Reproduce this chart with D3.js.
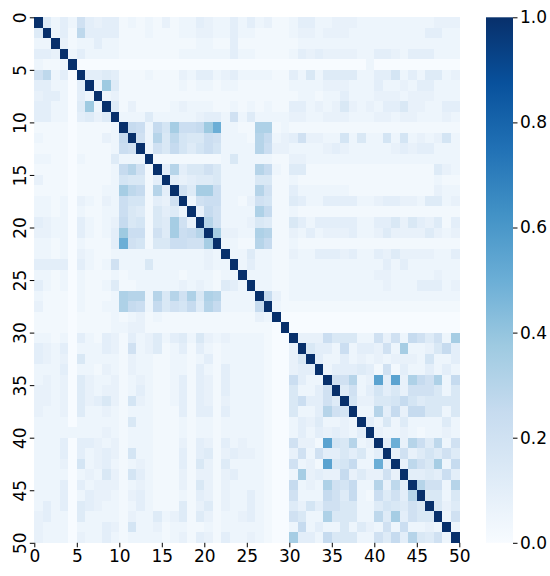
<!DOCTYPE html>
<html><head><meta charset="utf-8">
<script src="https://cdn.jsdelivr.net/npm/d3@7/dist/d3.min.js"></script>
<style>
html,body{margin:0;padding:0;background:#fff;}
svg{display:block;}
text{font-family:"DejaVu Sans",sans-serif;}
</style>
</head><body>
<svg id="chart" width="550" height="576"></svg>
<script>
(function(){
// ---- data ----
// number of variables (rows/cols) of the correlation matrix
const variableCount = 50;
// tick labels for both matrix axes
const axisTicks = [0, 5, 10, 15, 20, 25, 30, 35, 40, 45, 50];
// colorbar ticks
const colorbarTicks = [0.0, 0.2, 0.4, 0.6, 0.8, 1.0];
// diagonal value
const diagonalValue = 1.0;
// value step of one character in the encoded rows below (base-36 digit * step)
const valueStep = 0.025;
// upper triangle of the symmetric matrix:
// row i lists columns i+1 .. 49
const upperTriangle = [
  "524284344" + "1212131" + "2243224242311" + "24422333222222222333",
  "241b4444" + "1112111" + "2233224221111" + "23323332222222224422",
  "3122422" + "1111111" + "1122114111111" + "12222222222222222222",
  "242222" + "1111111" + "2222224221111" + "24343333224432444222",
  "00000" + "0000000" + "0000000000000" + "00000000020000000000",
  "4454" + "1112111" + "3244234222211" + "42625555224472425523",
  "2f5" + "1111111" + "2122122111111" + "22223332224223244222",
  "23" + "1111111" + "1111111111111" + "12212242223332333222",
  "5" + "1311112" + "3222112121211" + "44232363232446332244",
  "2225222" + "2234428252222" + "33223332223323322232",
  "a92a7e" + "99afk" + "2211" + "dd" + "12" + "11111111111111111111",
  "82c6b" + "76698" + "2221" + "ca" + "23" + "48332272622727232372",
  "286a" + "75797" + "2222" + "c9" + "33" + "22223432222234344222",
  "111" + "11111" + "2622" + "22" + "11" + "33222222222222222222",
  "4c" + "46686" + "2222" + "ca" + "21" + "55" + "111111111111111" + "532",
  "4" + "34556" + "2222" + "66" + "11" + "2" + "1111111111111111" + "211",
  "85ee9" + "2222" + "c8" + "11" + "4222222" + "1111111111" + "322",
  "2899" + "2213" + "87" + "11" + "54224444223443325523",
  "3a8" + "2222" + "da" + "11" + "2" + "1111111111111111111",
  "c8" + "2223" + "65" + "11" + "64244444224463643514",
  "e" + "3322" + "dc" + "11" + "32423334223533335323",
  "2211" + "ca" + "11" + "2" + "1111111111111111111",
  "2252211" + "32244434224353333224",
  "242211" + "22222222222424222222",
  "22211" + "22222222223322222322",
  "2211" + "22222222222322244423",
  "a31" + "22222222222222222222",
  "21" + "11111111111111111111",
  "0" + "00000000000000000000",
  "00000000000000000000",
  "333" + "9666228382a8582e",
  "64" + "429244382e2236a4",
  "4" + "2242323233327224",
  "2444541814224242",
  "88c23m4m3da8d2a",
  "58247463888626",
  "733667a756666",
  "22c4a3aa6626",
  "42625222252",
  "3223212232",
  "4k3c95b28",
  "38357585",
  "3b86e2a",
  "445494",
  "c882c",
  "6626",
  "635",
  "28",
  "2",
  ""
];
// matplotlib "Blues" colormap anchors
const bluesColors = ["#f7fbff","#deebf7","#c6dbef","#9ecae1","#6baed6","#4292c6","#2171b5","#08519c","#08306b"];

// ---- build matrix ----
function upperValue(i, j) {
  return parseInt(upperTriangle[i].charAt(j - i - 1), 36) * valueStep;
}
const cells = [];
for (let i = 0; i < variableCount; i++) {
  for (let j = 0; j < variableCount; j++) {
    let v;
    if (i === j) v = diagonalValue;
    else if (j > i) v = upperValue(i, j);
    else v = upperValue(j, i);
    cells.push({row: i, col: j, value: v});
  }
}

// ---- drawing ----
const svg = d3.select("#chart");
const plotLeft = 34.3, plotRight = 459.3, plotTop = 17.3, plotBottom = 542.8;
const x = d3.scaleLinear().domain([0, variableCount]).range([plotLeft, plotRight]);
const y = d3.scaleLinear().domain([0, variableCount]).range([plotTop, plotBottom]);
const color = d3.scaleLinear()
  .domain(bluesColors.map((c, k) => k / (bluesColors.length - 1)))
  .range(bluesColors)
  .interpolate(d3.interpolateRgb)
  .clamp(true);

svg.append("g")
  .attr("shape-rendering", "crispEdges")
  .selectAll("rect")
  .data(cells)
  .join("rect")
  .attr("x", d => x(d.col))
  .attr("y", d => y(d.row))
  .attr("width", d => x(d.col + 1) - x(d.col) + 0.3)
  .attr("height", d => y(d.row + 1) - y(d.row) + 0.3)
  .attr("fill", d => color(d.value));

const fontSize = 17;

// bottom axis
const gx = svg.append("g")
  .attr("transform", `translate(0,${plotBottom})`)
  .call(d3.axisBottom(x).tickValues(axisTicks).tickSize(4.5).tickPadding(2.8).tickFormat(d3.format("d")));
gx.select(".domain").remove();
gx.selectAll("text").attr("font-size", fontSize).attr("fill", "#000").attr("font-family", "DejaVu Sans");
gx.selectAll("line").attr("stroke", "#000").attr("stroke-width", 1);

// left axis (rotated labels)
const gy = svg.append("g")
  .attr("transform", `translate(${plotLeft},0)`)
  .call(d3.axisLeft(y).tickValues(axisTicks).tickSize(4.5).tickFormat(d3.format("d")));
gy.select(".domain").remove();
gy.selectAll("line").attr("stroke", "#000").attr("stroke-width", 1);
gy.selectAll("text")
  .attr("x", null).attr("dy", null)
  .attr("text-anchor", "middle")
  .attr("transform", "translate(-8.3,0) rotate(-90)")
  .attr("font-size", fontSize).attr("fill", "#000").attr("font-family", "DejaVu Sans");

// colorbar
const cbLeft = 486, cbWidth = 27;
const defs = svg.append("defs");
const grad = defs.append("linearGradient").attr("id", "cbgrad")
  .attr("x1", 0).attr("y1", 1).attr("x2", 0).attr("y2", 0);
grad.selectAll("stop").data(bluesColors).join("stop")
  .attr("offset", (d, k) => k / (bluesColors.length - 1))
  .attr("stop-color", d => d);
svg.append("rect")
  .attr("x", cbLeft).attr("y", plotTop)
  .attr("width", cbWidth).attr("height", plotBottom - plotTop)
  .attr("fill", "url(#cbgrad)");
const cScale = d3.scaleLinear().domain([0, 1]).range([plotBottom, plotTop]);
const gc = svg.append("g")
  .attr("transform", `translate(${cbLeft + cbWidth},0)`)
  .call(d3.axisRight(cScale).tickValues(colorbarTicks).tickSize(4.5).tickPadding(2.5).tickFormat(d3.format(".1f")));
gc.select(".domain").remove();
gc.selectAll("line").attr("stroke", "#000").attr("stroke-width", 1);
gc.selectAll("text").attr("font-size", fontSize).attr("fill", "#000").attr("font-family", "DejaVu Sans");
})();
</script>
</body></html>
